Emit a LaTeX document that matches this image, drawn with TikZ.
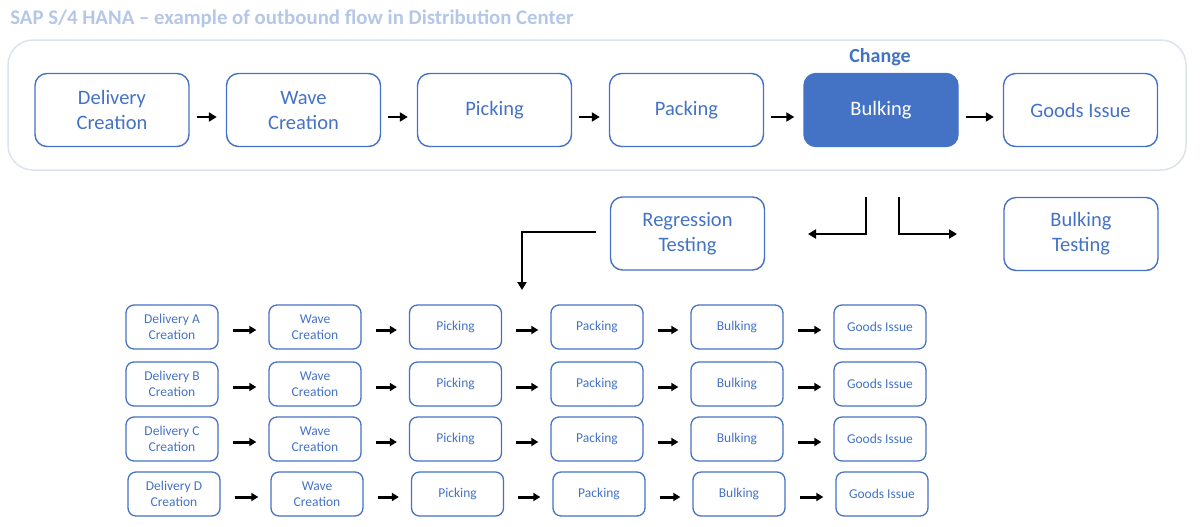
\documentclass[tikz,border=0pt]{standalone}
\usepackage{fontspec}
\setmainfont{Carlito}
\usetikzlibrary{arrows.meta}
\definecolor{sapblue}{HTML}{4472C4}
\definecolor{titleblue}{HTML}{B4C7E7}
\definecolor{framegray}{HTML}{DCE2EE}
\newcommand{\bigtxt}{\fontsize{10.25}{12.5}\selectfont}
\newcommand{\smalltxt}{\fontsize{6.75}{8}\selectfont}

\begin{document}
\begin{tikzpicture}[x=0.5pt, y=-0.5pt,
  stage/.style={draw=sapblue, line width=0.7pt, rounded corners=6pt, text=sapblue, font=\bigtxt,
    align=center, minimum width=77pt, minimum height=36.5pt, inner sep=0pt},
  change/.style={stage, fill=sapblue, text=white},
  substage/.style={draw=sapblue, line width=0.65pt, rounded corners=4pt, text=sapblue, font=\smalltxt,
    align=center, minimum width=46pt, minimum height=22pt, inner sep=0pt},
  flow/.style={-{Triangle[length=4pt, width=4.5pt]}, line width=1.4pt},
  subflow/.style={-{Triangle[length=3.5pt, width=4pt]}, line width=1.5pt, shorten <=7pt, shorten >=6pt}]
  \useasboundingbox (0,0) rectangle (1200,526);
  \node[anchor=west, inner sep=0pt, text=titleblue, font=\bfseries\fontsize{10.4}{12}\selectfont] (title) at (10,19)
    {SAP S/4 HANA – example of outbound flow in Distribution Center};
  \node[draw=framegray, line width=0.75pt, rounded corners=12.5pt, minimum width=589pt, minimum height=65pt] (frame) at (597,105) {};

  % current process
  \node[stage]  (Del)  at (112,110)   {Delivery\\Creation};
  \node[stage]  (Wave) at (303.5,110) {Wave\\Creation};
  \node[stage]  (Pick) at (494.5,110) {Picking};
  \node[stage]  (Pack) at (686.5,110) {Packing};
  \node[change] (Bulk) at (881,110)   {Bulking};
  \node[stage]  (GI)   at (1080.5,110) {Goods Issue};
  \node[text=sapblue, font=\bfseries\fontsize{10}{12}\selectfont] (Chg) at (880,57) {Change};
  \path[flow, shorten <=3.5pt, shorten >=4.5pt, transform canvas={yshift=-3.5pt}]
    (Del) edge (Wave) (Wave) edge (Pick) (Pick) edge (Pack) (Pack) edge (Bulk) (Bulk) edge (GI);

  % testing
  \node[stage] (Reg)  at (687.5,233.5) {Regression\\Testing};
  \node[stage] (BTst) at (1081,234)    {Bulking\\Testing};
  \coordinate (regA) at (866,197);
  \coordinate (regB) at (866,234);
  \coordinate (regC) at (808,234);
  \coordinate (bulA) at (899,197);
  \coordinate (bulB) at (899,234);
  \coordinate (bulC) at (957,234);
  \coordinate (runA) at (596,232);
  \coordinate (runB) at (522,232);
  \coordinate (runC) at (522,290);
  \draw[flow] (regA) -- (regB) -- (regC);
  \draw[flow] (bulA) -- (bulB) -- (bulC);
  \draw[flow] (runA) -- (runB) -- (runC);

  % regression runs
  \node[substage] (A1) at (172,327)   {Delivery A\\Creation};
  \node[substage] (A2) at (315,327)   {Wave\\Creation};
  \node[substage] (A3) at (455.5,327) {Picking};
  \node[substage] (A4) at (597,327)   {Packing};
  \node[substage] (A5) at (737,327)   {Bulking};
  \node[substage] (A6) at (880,327)   {Goods Issue};
  \node[substage] (B1) at (172,384)   {Delivery B\\Creation};
  \node[substage] (B2) at (315,384)   {Wave\\Creation};
  \node[substage] (B3) at (455.5,384) {Picking};
  \node[substage] (B4) at (597,384)   {Packing};
  \node[substage] (B5) at (737,384)   {Bulking};
  \node[substage] (B6) at (880,384)   {Goods Issue};
  \node[substage] (C1) at (172,439)   {Delivery C\\Creation};
  \node[substage] (C2) at (315,439)   {Wave\\Creation};
  \node[substage] (C3) at (455.5,439) {Picking};
  \node[substage] (C4) at (597,439)   {Packing};
  \node[substage] (C5) at (737,439)   {Bulking};
  \node[substage] (C6) at (880,439)   {Goods Issue};
  \node[substage] (D1) at (174,494)   {Delivery D\\Creation};
  \node[substage] (D2) at (317,494)   {Wave\\Creation};
  \node[substage] (D3) at (457.5,494) {Picking};
  \node[substage] (D4) at (599,494)   {Packing};
  \node[substage] (D5) at (739,494)   {Bulking};
  \node[substage] (D6) at (882,494)   {Goods Issue};
  \path[subflow, transform canvas={yshift=-1.5pt}]
    (A1) edge (A2) (A2) edge (A3) (A3) edge (A4) (A4) edge (A5) (A5) edge (A6)
    (B1) edge (B2) (B2) edge (B3) (B3) edge (B4) (B4) edge (B5) (B5) edge (B6)
    (C1) edge (C2) (C2) edge (C3) (C3) edge (C4) (C4) edge (C5) (C5) edge (C6)
    (D1) edge (D2) (D2) edge (D3) (D3) edge (D4) (D4) edge (D5) (D5) edge (D6);
\end{tikzpicture}
\end{document}
